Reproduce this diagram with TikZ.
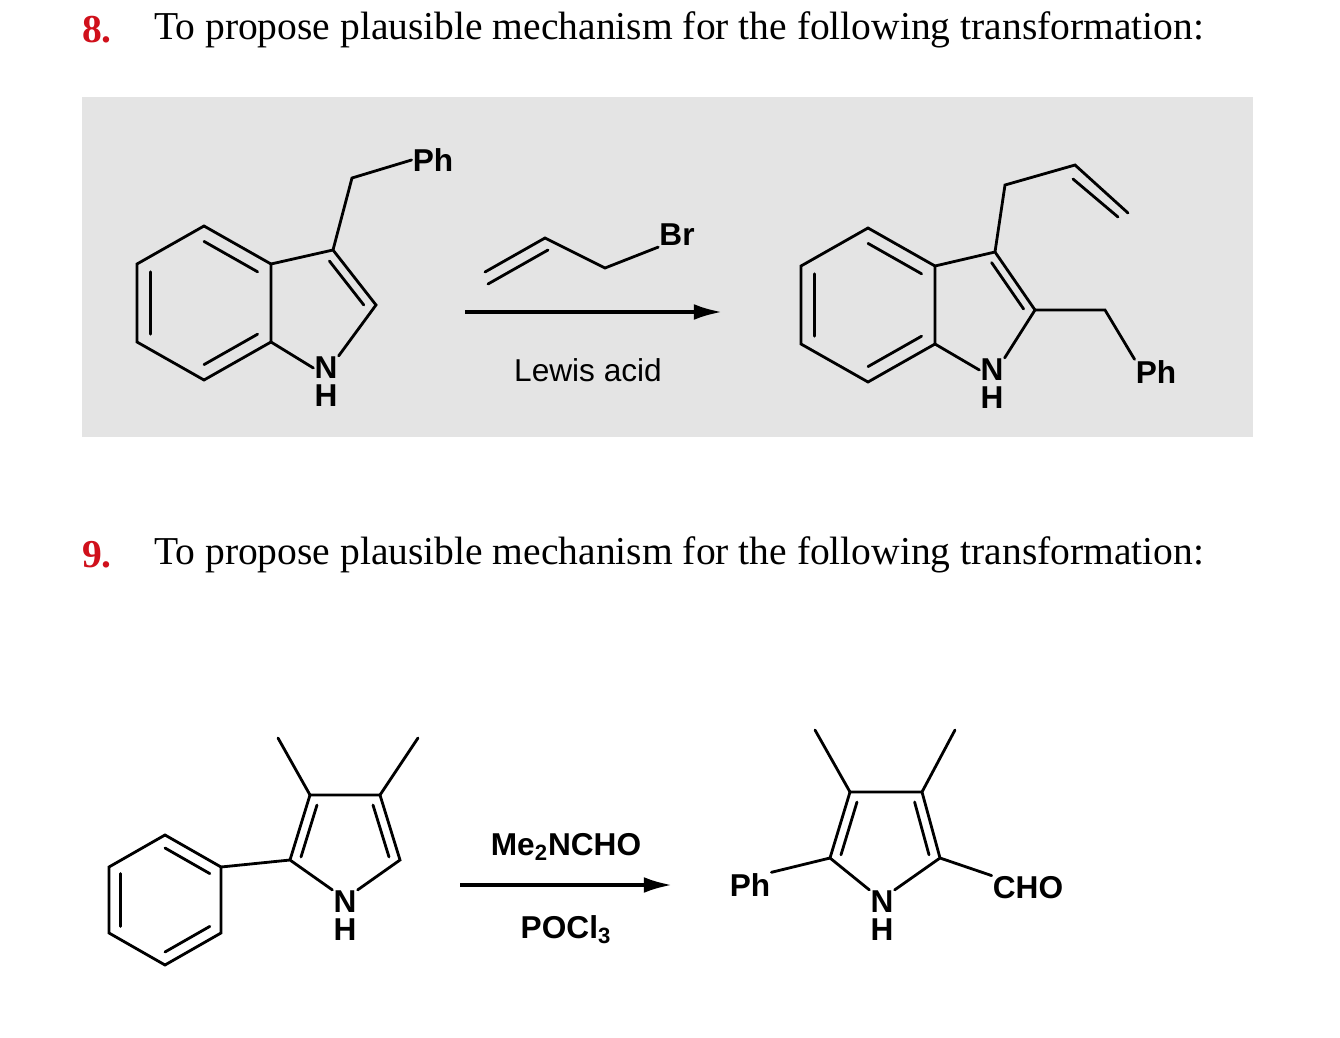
\documentclass[tikz,border=0pt]{standalone}
\usepackage{fontspec}
\setmainfont{Liberation Serif}
\newfontfamily\chemfont{Liberation Sans}
\usetikzlibrary{calc,arrows.meta}
\definecolor{qred}{HTML}{D0101B}
\definecolor{boxgray}{HTML}{E4E4E4}
% inner line of a double bond, pulled toward the ring centre
\newcommand{\innerbond}[3]{\draw[bond] ($(#1)!0.2!(#3)$) -- ($(#2)!0.2!(#3)$);}

\begin{document}
\begin{tikzpicture}[x=0.02cm, y=-0.02cm]
\tikzset{
  bond/.style={line width=1.6pt, line cap=round},
  atom/.style={font=\chemfont\bfseries\fontsize{18}{18}\selectfont, inner sep=0.5pt, fill=none},
  question/.style={font=\fontsize{22.5}{22.5}\selectfont, anchor=west},
  qnum/.style={font=\bfseries\fontsize{22.5}{22.5}\selectfont, text=qred, anchor=west},
  rxnarrow/.style={line width=2pt, -{Latex[length=16pt,width=9pt]}},
}
\useasboundingbox (0,0) rectangle (1340,1038);
\fill[white] (0,0) rectangle (1340,1038);

%Question 8
\node[qnum] (n8) at (76,30) {8.};
\node[question] (q8) at (148,30) {To propose plausible mechanism for the following transformation:};
\fill[boxgray] (82,97) rectangle (1253,437);

% starting indole
\foreach \n/\x/\y in {a1/271/264,a2/204/226,a3/137/264,a4/137/342,a5/204/380,a6/271/342,ac/204/303}
  \coordinate (\n) at (\x,\y);
\coordinate (ab3) at (333,250);
\coordinate (ab2) at (376,305);
\coordinate (abc) at (315,305);
\node[atom] (an) at (326,368) {N};
\node[atom] (ah) at (326,396) {H};
\draw[bond] (a1)--(a2)--(a3)--(a4)--(a5)--(a6)--cycle;
\innerbond{a1}{a2}{ac}
\innerbond{a3}{a4}{ac}
\innerbond{a5}{a6}{ac}
\draw[bond] (a1)--(ab3)--(ab2)--(an.north east) (a6)--(an.west);
\innerbond{ab3}{ab2}{abc}
\coordinate (ach) at (352,178);
\node[atom] (aph) at (433,160) {Ph};
\draw[bond] (ab3)--(ach)--(aph.west);

% allyl bromide
\coordinate (r1) at (485,272);
\coordinate (r2) at (545,238);
\coordinate (r3) at (605,268);
\node[atom] (rbr) at (677,235) {Br};
\draw[bond] (r1)--(r2)--(r3)--(rbr.south west);
\draw[bond] ($(r1)+(3,12)$)--($(r2)+(3,12)$);
\coordinate (arr1s) at (465,312);
\coordinate (arr1e) at (722,312);
\draw[rxnarrow] (arr1s)--(arr1e);
\node[atom, font=\chemfont\fontsize{18}{18}\selectfont] (lewis) at (588,370) {Lewis acid};

% product indole
\foreach \n/\x/\y in {b1/935/266,b2/868/228,b3/801/266,b4/801/344,b5/868/382,b6/935/344,bc/868/305}
  \coordinate (\n) at (\x,\y);
\coordinate (bb3) at (995,252);
\coordinate (bb2) at (1035,310);
\coordinate (bbc) at (978,305);
\node[atom] (bn) at (992,370) {N};
\node[atom] (bh) at (992,398) {H};
\draw[bond] (b1)--(b2)--(b3)--(b4)--(b5)--(b6)--cycle;
\innerbond{b1}{b2}{bc}
\innerbond{b3}{b4}{bc}
\innerbond{b5}{b6}{bc}
\draw[bond] (b1)--(bb3)--(bb2)--(bn.north east) (b6)--(bn.west);
\innerbond{bb3}{bb2}{bbc}
\coordinate (ba1) at (1005,185);
\coordinate (ba2) at (1075,165);
\coordinate (ba3) at (1128,213);
\draw[bond] (bb3)--(ba1)--(ba2)--(ba3);
\draw[bond] ($(ba2)+(-2,14)$)--($(ba3)+(-10,4)$);
\coordinate (bch) at (1105,310);
\node[atom] (bph) at (1156,372) {Ph};
\draw[bond] (bb2)--(bch)--(bph.north west);

%Question 9
\node[qnum] (n9) at (76,555) {9.};
\node[question] (q9) at (148,555) {To propose plausible mechanism for the following transformation:};

% phenyl pyrrole
\foreach \n/\x/\y in {c1/221/867,c2/165/835,c3/109/867,c4/109/933,c5/165/965,c6/221/933,cc/165/900}
  \coordinate (\n) at (\x,\y);
\draw[bond] (c1)--(c2)--(c3)--(c4)--(c5)--(c6)--cycle;
\innerbond{c1}{c2}{cc}
\innerbond{c3}{c4}{cc}
\innerbond{c5}{c6}{cc}
\coordinate (p2) at (290,860);
\coordinate (p3) at (310,795);
\coordinate (p4) at (380,795);
\coordinate (p5) at (400,860);
\coordinate (pc) at (345,845);
\node[atom] (pn) at (345,902) {N};
\node[atom] (ph) at (345,930) {H};
\draw[bond] (c1)--(p2)--(p3)--(p4)--(p5)--(pn.north east) (p2)--(pn.north west);
\innerbond{p2}{p3}{pc}
\innerbond{p4}{p5}{pc}
\coordinate (pm3) at (278,738);
\coordinate (pm4) at (418,738);
\draw[bond] (p3)--(pm3) (p4)--(pm4);

\coordinate (arr2s) at (460,885);
\coordinate (arr2e) at (672,885);
\draw[rxnarrow] (arr2s)--(arr2e);
\node[atom] (dmf) at (566,847) {Me\textsubscript{2}NCHO};
\node[atom] (pocl) at (566,930) {POCl\textsubscript{3}};

% formyl pyrrole
\coordinate (s2) at (830,858);
\coordinate (s3) at (850,792);
\coordinate (s4) at (922,792);
\coordinate (s5) at (940,858);
\coordinate (sc) at (885,842);
\node[atom] (sn) at (882,902) {N};
\node[atom] (sh) at (882,930) {H};
\draw[bond] (s2)--(s3)--(s4)--(s5)--(sn.north east) (s2)--(sn.north west);
\innerbond{s2}{s3}{sc}
\innerbond{s4}{s5}{sc}
\coordinate (sm3) at (815,730);
\coordinate (sm4) at (955,730);
\draw[bond] (s3)--(sm3) (s4)--(sm4);
\node[atom] (sph) at (750,885) {Ph};
\node[atom] (scho) at (1028,888) {CHO};
\draw[bond] (s2)--(sph.north east) (s5)--(scho.north west);
\end{tikzpicture}
\end{document}
